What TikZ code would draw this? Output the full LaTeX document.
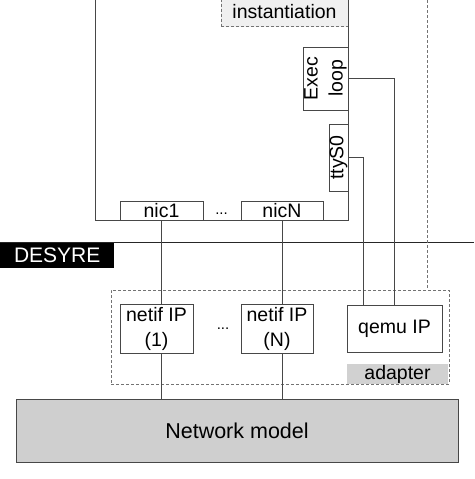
\documentclass[tikz,border=0pt]{standalone}
\usepackage{fontspec}
\setmainfont{Liberation Sans}
\begin{document}
\begin{tikzpicture}[x=1pt,y=-1pt,
  ln/.style={draw=black!72, line width=1pt},
  bx/.style={draw=black!72, line width=1pt, fill=white, inner sep=0pt, align=center,
    font=\fontsize{19.5}{25}\selectfont},
  dsh/.style={draw=black!55, line width=0.8pt, dash pattern=on 3pt off 2pt},
  txt/.style={inner sep=0pt, font=\fontsize{19.5}{25}\selectfont}]
\useasboundingbox (0,0) rectangle (474,479);
\begin{scope}
\clip (0,0) rectangle (474,479);
% main (processor) box, cut by the top edge
\draw[ln, fill=white] (95,-20) rectangle (348,220);
% instantiation box
\node[dsh, fill=black!6, minimum width=127pt, minimum height=47pt, inner sep=0pt, anchor=south west] (inst) at (221,27) {};
\node[txt] (insttxt) at (284.5,12) {instantiation};
\draw[ln] (348,-20) -- (348,27);
% outer dashed line
\coordinate (dtop) at (427,-20);
\end{scope}
% Exec loop
\node[bx, rotate=90, minimum width=63pt, minimum height=45pt] (exec) at (325.5,78.5) {Exec\\loop};
% ttyS0
\node[bx, rotate=90, minimum width=67pt, minimum height=19pt] (tty) at (338.5,157.5) {ttyS0};
% nics
\node[bx, minimum width=83pt, minimum height=19pt] (nic1) at (161.5,210.5) {nic1};
\node[bx, minimum width=82pt, minimum height=19pt] (nicN) at (282,210.5) {nicN};
\node[inner sep=0pt, anchor=base, font=\fontsize{15}{18}\selectfont] (dots1) at (221.5,214) {...};
% DESYRE line
\coordinate (hl) at (0,242);
\coordinate (hr) at (474,242);
\draw[draw=black!85, line width=0.9pt] (hl) -- (hr);
\node[fill=black, text=white, inner sep=0pt, minimum width=114pt, minimum height=25pt, anchor=north west,
  font=\fontsize{21}{25}\selectfont] (desyre) at (0,242.5) {DESYRE};
% adapter
\node[dsh, minimum width=338pt, minimum height=94pt, inner sep=0pt] (adapter) at (280,337) {};
\node[fill=black!18, inner sep=0pt, minimum width=101pt, minimum height=20pt, font=\fontsize{19.5}{25}\selectfont] (adlabel) at (397.5,374) {adapter};
\draw[dsh] (dtop) -- (dtop |- adapter.north);
\node[bx, minimum width=73pt, minimum height=49pt] (netif1) at (156.5,328.5) {netif IP\\(1)};
\node[bx, minimum width=72pt, minimum height=49pt] (netifN) at (277,328.5) {netif IP\\(N)};
\node[bx, minimum width=95pt, minimum height=47pt] (qemu) at (394.5,328.5) {qemu IP};
\node[inner sep=0pt, anchor=base, font=\fontsize{15}{18}\selectfont] (dots2) at (223,329) {...};
% network model
\node[draw=black!72, line width=1pt, fill=black!19, minimum width=442pt, minimum height=63pt, inner sep=0pt,
  font=\fontsize{21.5}{25}\selectfont] (net) at (237,430.5) {Network model};
% connectors
\draw[ln] (nic1.south) -- (nic1.south |- netif1.north);
\draw[ln] (nic1.south |- netif1.south) -- (nic1.south |- net.north);
\draw[ln] (nicN.south) -- (nicN.south |- netifN.north);
\draw[ln] (nicN.south |- netifN.south) -- (nicN.south |- net.north);
\draw[ln] (exec.south) -| (qemu.north);
\draw[ln] (tty.south) -| ([xshift=-31.5pt]qemu.north);
\end{tikzpicture}
\end{document}
